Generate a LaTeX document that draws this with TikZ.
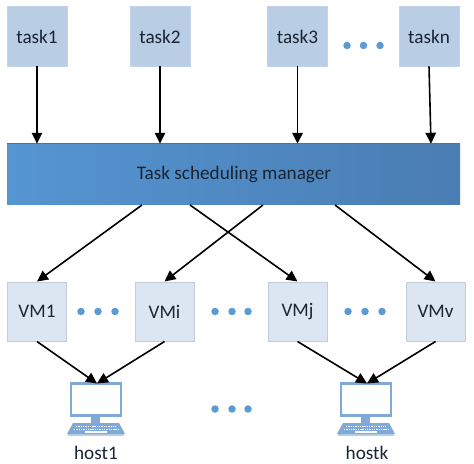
\documentclass[tikz,border=0pt]{standalone}
\usepackage{fontspec}
\setmainfont{Carlito}
\usetikzlibrary{arrows.meta,shadows,calc}
\definecolor{taskfill}{HTML}{B9CDE5}
\definecolor{vmfill}{HTML}{DCE6F2}
\definecolor{vmedge}{HTML}{C3CEDB}
\definecolor{dotblue}{HTML}{5B9BD5}
\definecolor{mgrA}{HTML}{5595D2}
\definecolor{mgrB}{HTML}{4A7DB3}
\definecolor{mgrEdge}{HTML}{3F77AE}
\definecolor{txt}{HTML}{1A2433}
\definecolor{monblue}{HTML}{7FA9D6}
\tikzset{
  x=1bp,y=-1bp,
  label text/.style={font=\fontsize{19.2bp}{22bp}\selectfont,text=txt,inner sep=0pt},
  taskbox/.style={fill=taskfill,draw=taskfill!85!white,line width=0.6bp,minimum width=60bp,minimum height=60bp,inner sep=0pt},
  vmbox/.style={fill=vmfill,draw=vmedge,line width=1bp,minimum width=59bp,minimum height=59bp,inner sep=0pt},
  flow/.style={-{Triangle[length=11bp,width=10.5bp]},line width=1.6bp,black},
  dotmark/.style={circle,fill=dotblue,inner sep=0pt,minimum size=7.5bp},
  monpart/.style={fill=monblue,draw=none}
}
\begin{document}
\begin{tikzpicture}
\useasboundingbox (0,0) rectangle (474,464);
% tasks
\node[taskbox] (t1) at (37,36) {};
\node[taskbox] (t2) at (160,36) {};
\node[taskbox] (t3) at (297.5,36) {};
\node[taskbox] (tn) at (429,36) {};
\node[label text] (lt1) at (37,36.5) {task1};
\node[label text] (lt2) at (160,36.5) {task2};
\node[label text] (lt3) at (297.5,36.5) {task3};
\node[label text] (ltn) at (429,36.5) {taskn};
\node[dotmark] (d1) at (347,45.5) {};
\node[dotmark] (d2) at (363.5,45.5) {};
\node[dotmark] (d3) at (380,45.5) {};
% manager
\shade[left color=mgrA,right color=mgrB,draw=none] (7,144) rectangle (460,205);
\node[minimum width=453bp,minimum height=61bp,draw=none,inner sep=0pt] (mgr) at (233.5,174.5) {};
\draw[mgrEdge,line width=0.8bp] (mgr.north west) -- (mgr.north east);
\node[label text] (lm) at (234,174.5) {Task scheduling manager};
\coordinate (m1) at (142,205);
\coordinate (m2) at (263,205);
\coordinate (m3) at (190,205);
\coordinate (m4) at (335,205);
% VMs
\node[vmbox] (v1) at (37,311.5) {};
\node[vmbox] (vi) at (164.5,311.5) {};
\node[vmbox] (vj) at (297.5,311.5) {};
\node[vmbox] (vv) at (435.5,311.5) {};
\node[label text] (lv1) at (37,311.5) {VM1};
\node[label text] (lvi) at (164.5,311.5) {VMi};
\node[label text] (lvj) at (297.5,311.5) {VMj};
\node[label text] (lvv) at (435.5,311.5) {VMv};
\foreach \n/\x in {a/81,b/98,c/115,e/215,f/232,g/248,h/348,i/365,j/382}{
  \node[dotmark] (r\n) at (\x,311.5) {};
}
\foreach \n/\x in {a/215,b/232,c/248}{
  \node[dotmark] (s\n) at (\x,409) {};
}
% hosts
\foreach \n/\c in {ha/96,hb/366}{
  \begin{scope}[shift={(\c,0)}]
    \fill[monblue!55!white] (-28,434) rectangle (28,436);
    \draw[monblue,line width=2.6bp,fill=white] (-25,383.5) rectangle (25,415.5);
    \fill[monpart] (-5,417) rectangle (4,423);
    \fill[monpart] (-23,423) -- (23,423) -- (29,434) -- (-29,434) -- cycle;
    \draw[white,line width=1.6bp,dash pattern=on 1.4bp off 0.9bp] (-20,426.3) -- (20,426.3);
    \draw[white,line width=1.4bp,dash pattern=on 1.4bp off 0.9bp] (-22,429.5) -- (22,429.5);
    \fill[white] (-11,431.3) rectangle (11,432.8);
  \end{scope}
  \coordinate (\n) at (\c+1,383.5);
}
\node[label text] (lh1) at (96,452.5) {host1};
\node[label text] (lh2) at (367,452.5) {hostk};
% connectors
\draw[flow] (t1.south) -- (t1.south |- mgr.north);
\draw[flow] (t2.south) -- (t2.south |- mgr.north);
\draw[flow] (t3.south) -- (t3.south |- mgr.north);
\draw[flow] (tn.south) -- ($(tn.south |- mgr.north)+(2,0)$);
\draw[flow] (m1) -- (v1.north);
\draw[flow] (m2) -- (vi.north);
\draw[flow] (m3) -- (vj.north);
\draw[flow] (m4) -- (vv.north);
\draw[flow] (v1.south) -- (ha);
\draw[flow] (vi.south) -- (ha);
\draw[flow] (vj.south) -- (hb);
\draw[flow] (vv.south) -- (hb);
\end{tikzpicture}
\end{document}
